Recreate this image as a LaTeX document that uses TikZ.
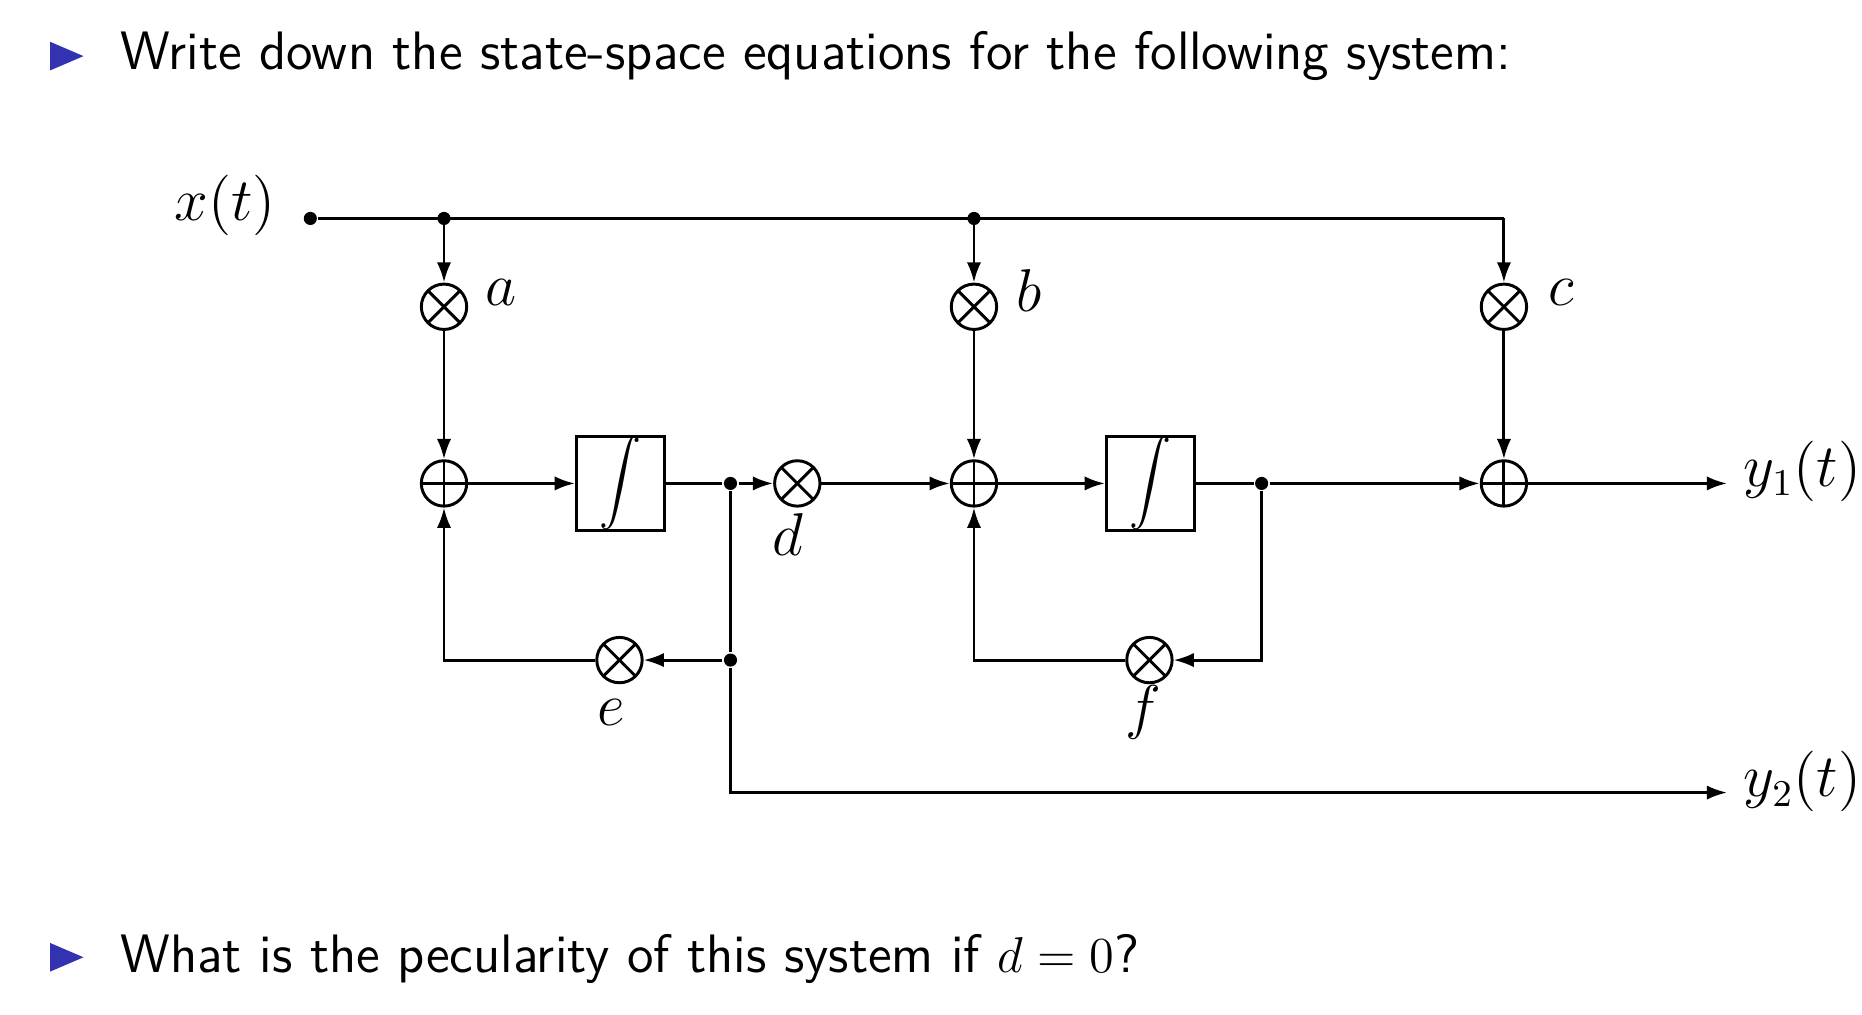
\documentclass[tikz,border=0pt]{standalone}
\usetikzlibrary{arrows.meta}
\begin{document}
\begin{tikzpicture}[x=0.01cm,y=-0.01cm,line width=0.7pt,
  every node/.style={font=\fontsize{13.5}{16}\selectfont},
  mul/.style={circle,draw,minimum size=0.38cm,inner sep=0pt,path picture={\draw (path picture bounding box.center) +(45:0.19cm) -- +(225:0.19cm); \draw (path picture bounding box.center) +(135:0.19cm) -- +(315:0.19cm);}},
  sumn/.style={circle,draw,minimum size=0.38cm,inner sep=0pt,path picture={\draw (path picture bounding box.north) -- (path picture bounding box.south); \draw (path picture bounding box.west) -- (path picture bounding box.east);}},
  intb/.style={draw,minimum size=0.74cm,inner sep=0pt},
  dotn/.style={circle,fill,inner sep=0pt,minimum size=0.11cm},
  arr/.style={-{Latex[length=0.17cm,width=0.12cm]}},
  bul/.style={fill={rgb,255:red,51;green,51;blue,178}}]
\useasboundingbox (0,0) rectangle (1560,850);
% bullets and text
\fill[bul] (42,35) -- (70,47) -- (42,59) -- cycle;
\node[anchor=west,font=\sffamily\fontsize{12.9}{15}\selectfont] (t1) at (88,47) {Write down the state-space equations for the following system:};
\fill[bul] (42,790) -- (70,802) -- (42,814) -- cycle;
\node[anchor=west,font=\sffamily\fontsize{12.9}{15}\selectfont] (t2) at (88,803) {What is the pecularity of this system if $d=0$?};
% nodes
\node[dotn] (x) at (260,183) {};
\node[anchor=east] (xl) at (244,172) {$x(t)$};
\coordinate (ja) at (372,183);
\coordinate (jb) at (816,183);
\coordinate (jc) at (1260,183);
\node[dotn] at (ja) {};
\node[dotn] at (jb) {};
\node[mul] (ma) at (372,257) {};
\node[mul] (mb) at (816,257) {};
\node[mul] (mc) at (1260,257) {};
\node (la) at (420,245) {$a$};
\node (lb) at (862,243) {$b$};
\node (lc) at (1308,245) {$c$};
\node[sumn] (s1) at (372,405) {};
\node[sumn] (s2) at (816,405) {};
\node[sumn] (s3) at (1260,405) {};
\node[intb] (i1) at (520,405) {$\displaystyle\int$};
\node[intb] (i2) at (964,405) {$\displaystyle\int$};
\node[dotn] (d1) at (612,405) {};
\node[mul] (md) at (668,405) {};
\node (ld) at (660,448) {$d$};
\node[dotn] (d2) at (1057,405) {};
\node[mul] (me) at (519,553) {};
\node[dotn] (d3) at (612,553) {};
\node (le) at (512,597) {$e$};
\node[mul] (mf) at (963,553) {};
\node (lf) at (958,597) {$f$};
\coordinate (y1e) at (1447,405);
\coordinate (y2e) at (1447,664);
\node (ly1) at (1510,395) {$y_1(t)$};
\node (ly2) at (1510,655) {$y_2(t)$};
\coordinate (c2) at (612,664);
% connections
\draw (x) -- (jc);
\draw[arr] (ja) -- (ma);
\draw[arr] (jb) -- (mb);
\draw[arr] (jc) -- (mc);
\draw[arr] (ma) -- (s1);
\draw[arr] (mb) -- (s2);
\draw[arr] (mc) -- (s3);
\draw[arr] (s1) -- (i1);
\draw (i1) -- (d1);
\draw[arr] (d1) -- (md);
\draw[arr] (md) -- (s2);
\draw[arr] (s2) -- (i2);
\draw (i2) -- (d2);
\draw[arr] (d2) -- (s3);
\draw[arr] (s3) -- (y1e);
\draw (d1) -- (d3);
\draw[arr] (d3) -- (me);
\draw[arr] (me) -| (s1);
\draw[arr] (d2) |- (mf);
\draw[arr] (mf) -| (s2);
\draw[arr] (d3) -- (c2) -- (y2e);
\end{tikzpicture}
\end{document}
